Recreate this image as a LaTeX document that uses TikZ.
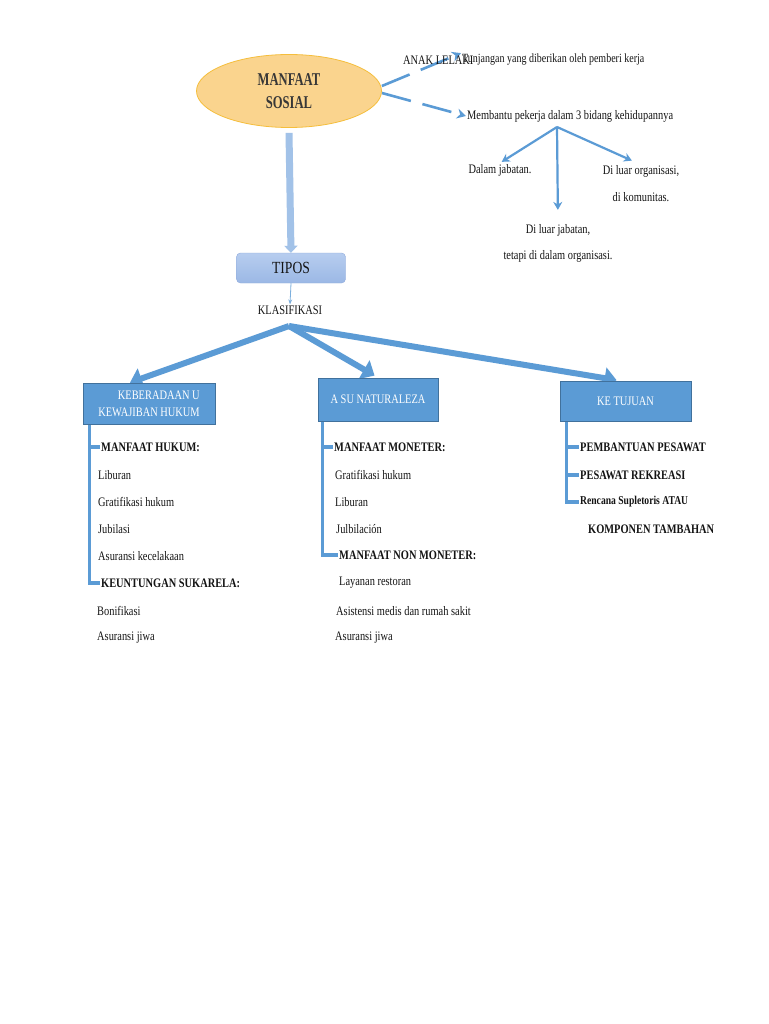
\documentclass[tikz,border=0pt]{standalone}
\usepackage{fontspec}
\setmainfont{Liberation Serif}[FakeStretch=0.8]
\newfontfamily\tallfont{Liberation Serif}[FakeStretch=0.7]
\usepackage{tikz}
\usetikzlibrary{arrows.meta,positioning,calc,shapes.geometric,backgrounds}
\definecolor{sky}{HTML}{5B9BD5}
\definecolor{skyd}{HTML}{41719C}
\definecolor{palet}{HTML}{B7CDEF}
\definecolor{paleb}{HTML}{9BB8E5}
\definecolor{paled}{HTML}{8FAADC}
\definecolor{shaft}{HTML}{A2C2E8}
\definecolor{peach}{HTML}{FAD48E}
\definecolor{gold}{HTML}{F5BE3C}
\definecolor{ink}{HTML}{141414}

\begin{document}
\begin{tikzpicture}[x=1pt,y=-1pt,
  txt/.style={font=\fontsize{13}{15}\selectfont,text=ink,inner sep=1pt},
  head/.style={txt,font=\fontsize{13}{15}\selectfont\bfseries},
  cat/.style={draw=skyd,fill=sky,line width=0.8pt,text=white,font=\fontsize{13}{17}\selectfont,inner sep=2pt},
  dashlink/.style={draw=sky,line width=2.6pt,dash pattern=on 30pt off 12pt,-{Stealth[length=9pt,width=10pt]}},
  fork/.style={draw=sky,line width=2.2pt,-{Stealth[length=8pt,width=9pt]}},
  bigarrow/.style={draw=sky,line width=6pt,-{Triangle[length=12pt,width=21pt]}},
  bracket/.style={draw=sky,line width=3.5pt}]
  \useasboundingbox (0,0) rectangle (768,1024);

  % Top: manfaat sosial and its notes
  \node[ellipse,draw=gold,fill=peach,line width=0.8pt,minimum width=185,minimum height=73,
        align=center,text=ink!85,font=\tallfont\fontsize{18}{23}\selectfont\bfseries] (sosial) at (289,91) {MANFAAT\\SOSIAL};
  \node[txt,anchor=west] (anak) at (402,60) {ANAK LELAKI};
  \node[txt,anchor=west,font=\fontsize{12.5}{15}\selectfont] (tunjangan) at (461,60) {Tunjangan yang diberikan oleh pemberi kerja};
  \node[txt,anchor=west] (membantu) at (466,116) {Membantu pekerja dalam 3 bidang kehidupannya};
  \coordinate (cabang) at (557,127);
  \node[txt] (dalam) at (500,170) {Dalam jabatan.};
  \node[txt,align=center,font=\fontsize{13}{27}\selectfont] (luarorg) at (641,184) {Di luar organisasi,\\di komunitas.};
  \node[txt,align=center,font=\fontsize{13}{26}\selectfont] (luarjab) at (558,243) {Di luar jabatan,\\tetapi di dalam organisasi.};

  % Middle: tipos and klasifikasi
  \node[rounded corners=4pt,draw=paled,top color=palet,bottom color=paleb,minimum width=109,minimum height=30,
        font=\fontsize{17}{19}\selectfont,text=ink] (tipos) at (291,268) {TIPOS};
  \node[txt] (klasif) at (290,310) {KLASIFIKASI};
  \coordinate (pusat) at (289,326);

  % Three categories
  \node[cat,minimum width=132,minimum height=41,align=right] (kebera) at (149,403.5) {KEBERADAAN U\\KEWAJIBAN HUKUM};
  \node[cat,minimum width=120,minimum height=43] (natur) at (378,399.5) {A SU NATURALEZA};
  \node[cat,minimum width=131,minimum height=40] (tujuan) at (625.5,401) {KE TUJUAN};

  % Left column
  \node[head,anchor=west] (hukum) at (100,447) {MANFAAT HUKUM:};
  \node[txt,anchor=west] (libur) at (97,475) {Liburan};
  \node[txt,anchor=west] (gratif) at (97,502) {Gratifikasi hukum};
  \node[txt,anchor=west] (jubil) at (97,529) {Jubilasi};
  \node[txt,anchor=west] (kecel) at (97,556) {Asuransi kecelakaan};
  \node[head,anchor=west] (sukarela) at (100,583) {KEUNTUNGAN SUKARELA:};
  \node[txt,anchor=west] (bonif) at (96,611) {Bonifikasi};
  \node[txt,anchor=west] (jiwa) at (96,638) {Asuransi jiwa};

  % Middle column
  \node[head,anchor=west] (moneter) at (333,447) {MANFAAT MONETER:};
  \node[txt,anchor=west] (gratifb) at (334,475) {Gratifikasi hukum};
  \node[txt,anchor=west] (liburb) at (334,502) {Liburan};
  \node[txt,anchor=west] (julbil) at (335,529) {Julbilación};
  \node[head,anchor=west] (nonmon) at (338,555) {MANFAAT NON MONETER:};
  \node[txt,anchor=west] (restoran) at (338,583) {Layanan restoran};
  \node[txt,anchor=west] (medis) at (335,611) {Asistensi medis dan rumah sakit};
  \node[txt,anchor=west] (jiwab) at (334,638) {Asuransi jiwa};

  % Right column
  \node[head,anchor=west] (pemb) at (579,447) {PEMBANTUAN PESAWAT};
  \node[head,anchor=west] (rekre) at (579,475) {PESAWAT REKREASI};
  \node[head,anchor=west,font=\fontsize{12}{15}\selectfont\bfseries] (renc) at (579,502) {Rencana Supletoris ATAU};
  \node[head,anchor=west] (kompon) at (587,529) {KOMPONEN TAMBAHAN};

  \begin{scope}[on background layer]
  \fill[white] (0,0) rectangle (768,1024);
  % connectors
  \draw[dashlink] ($(sosial.east)+(0,-5)$) -- (tunjangan.north west);
  \draw[dashlink] ($(sosial.east)+(0,2)$) -- (membantu.west);
  \draw[fork,shorten >=2pt] (cabang) -- (dalam.north);
  \draw[fork,shorten >=13pt] (cabang) -- (luarjab.north);
  \draw[fork,shorten >=10pt] (cabang) -- (luarorg.north);
  \draw[shaft,line width=7pt,-{Triangle[length=7pt,width=13pt]}] ($(sosial.south)+(0,5)$) -- (tipos.north);
  \draw[sky!80,line width=0.8pt,-{Stealth[length=5pt]}] (tipos.south) -- (klasif.north);
  \draw[bigarrow] (pusat) -- ($(kebera.north)+(-19,0)$);
  \draw[bigarrow,shorten >=4pt] (pusat) -- (natur.north);
  \draw[bigarrow,shorten >=3pt] (pusat) -- ($(tujuan.north)+(-6,0)$);
  % brackets
  \draw[bracket] ($(kebera.south west)+(7,0)$) |- (hukum.west);
  \draw[bracket] ($(kebera.south west)+(7,0)$) |- (sukarela.west);
  \draw[bracket] ($(natur.south west)+(5,0)$) |- (moneter.west);
  \draw[bracket] ($(natur.south west)+(5,0)$) |- (nonmon.west);
  \draw[bracket] ($(tujuan.south west)+(7,0)$) |- (pemb.west);
  \draw[bracket] ($(tujuan.south west)+(7,0)$) |- (rekre.west);
  \draw[bracket] ($(tujuan.south west)+(7,0)$) |- (renc.west);
  \end{scope}
\end{tikzpicture}
\end{document}
